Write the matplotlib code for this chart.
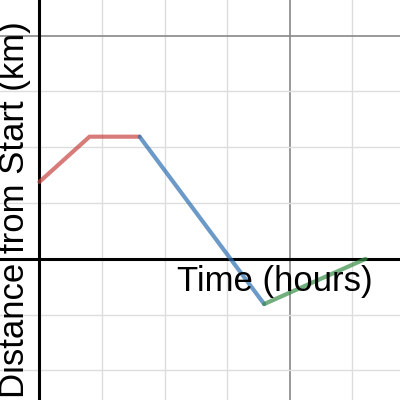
import matplotlib.pyplot as plt

# segments of the trip (x in grid units of time, y in grid units of distance)
seg_red_x = [0.0, 0.8, 1.6]
seg_red_y = [1.38, 2.19, 2.19]
seg_blue_x = [1.6, 3.59]
seg_blue_y = [2.19, -0.81]
seg_green_x = [3.59, 5.21]
seg_green_y = [-0.81, 0.0]

plt.rcParams['font.family'] = ['Liberation Sans', 'DejaVu Sans']
fig = plt.figure(figsize=(4, 4), dpi=100)
ax = fig.add_axes([0, 0, 1, 1])
ax.set_xlim(-0.63, 5.76)
ax.set_ylim(-2.53, 4.64)

# grid
for gx in range(0, 6):
    major = gx % 4 == 0
    ax.axvline(gx, color='#888888' if major else '#dddddd', lw=1.2 if major else 1.0, zorder=0)
for gy in range(-2, 5):
    major = gy % 4 == 0
    ax.axhline(gy, color='#888888' if major else '#dddddd', lw=1.2 if major else 1.0, zorder=0)
ax.axvline(0, color='black', lw=2.2, zorder=1)
ax.axhline(0, color='black', lw=2.2, zorder=1)

ax.plot(seg_red_x, seg_red_y, color='#c74440', alpha=0.7, lw=3, solid_capstyle='round', zorder=2)
ax.plot(seg_blue_x, seg_blue_y, color='#2d70b3', alpha=0.7, lw=3, solid_capstyle='round', zorder=2)
ax.plot(seg_green_x, seg_green_y, color='#388c46', alpha=0.7, lw=3, solid_capstyle='round', zorder=2)

ax.text(275, 119, 'Time (hours)', transform=None, fontsize=25, ha='center', va='center', zorder=3)
ax.text(15, 190, 'Distance from Start (km)', transform=None, fontsize=25,
        rotation=90, ha='center', va='center', zorder=3)

ax.axis('off')
fig.savefig('out.png', dpi=100)
